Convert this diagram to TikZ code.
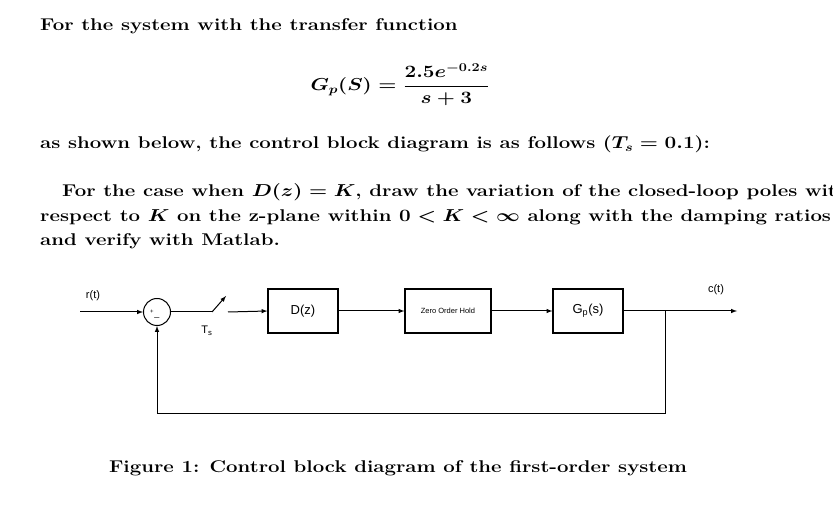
\documentclass[tikz,border=0pt]{standalone}
\usepackage{fontspec}
\newfontfamily\diag{Liberation Sans}
\begin{document}
\begin{tikzpicture}[x=1pt,y=-1pt,
  blk/.style={draw,line width=1.2pt,minimum height=44pt,inner sep=0pt},
  ln/.style={line width=1pt},
  arr/.style={ln,-latex},
  bt/.style={inner sep=0pt,xscale=1.2,transform shape,font=\fontsize{17}{20}\selectfont\bfseries\boldmath},
  txt/.style={bt,anchor=base west}]
\useasboundingbox (0,0) rectangle (833,521);
\node[txt] (t1) at (40,31) {For the system with the transfer function};
\node[bt,anchor=center] (eq) at (400,85) {$\displaystyle G_p(S)=\frac{2.5e^{-0.2s}}{s+3}$};
\node[txt] (t2) at (40,149) {as shown below, the control block diagram is as follows ($T_s=0.1$):};
\node[txt] (t3) at (62,197) {For the case when $D(z)=K$, draw the variation of the closed-loop poles with};
\node[txt] (t4) at (40,222) {respect to $K$ on the z-plane within $0<K<\infty$ along with the damping ratios};
\node[txt] (t5) at (40,246) {and verify with Matlab.};
% diagram
\coordinate (in) at (80,312);
\node[draw,circle,line width=1pt,minimum size=27pt,inner sep=0pt] (sum) at (157,312) {};
\node[font=\diag\fontsize{6}{6}\selectfont] at (152,312) {+};
\node[font=\diag\fontsize{9}{9}\selectfont] at (157,317) {\_};
\coordinate (s1) at (212,312);
\coordinate (s2) at (226,296);
\coordinate (s3) at (228,312);
\node[blk,minimum width=70pt,font=\diag\fontsize{13}{15}\selectfont] (D) at (303,311) {D(z)};
\node[blk,minimum width=86pt,font=\diag\fontsize{7.5}{8}\selectfont] (Z) at (448,311) {Zero Order Hold};
\node[blk,minimum width=70pt,font=\diag\fontsize{13}{15}\selectfont] (G) at (588,311) {G\textsubscript{p}(s)};
\coordinate (br) at (665,311);
\coordinate (out) at (737,311);
\coordinate (fb1) at (665,413);
\coordinate (fb2) at (157,413);
\node[font=\diag\fontsize{11}{13}\selectfont] (rt) at (93,296) {r(t)};
\node[font=\diag\fontsize{11}{13}\selectfont] (ct) at (716,290) {c(t)};
\node[font=\diag\fontsize{11}{13}\selectfont] (ts) at (207,331) {T\textsubscript{s}};
\draw[arr] (in) -- (sum.west);
\draw[ln] (sum.east) -- (s1);
\draw[arr] (s1) -- (s2);
\draw[arr] (s3) -- (D.west);
\draw[arr] (D.east) -- (Z.west);
\draw[arr] (Z.east) -- (G.west);
\draw[arr] (G.east) -- (out);
\draw[arr] (br) -- (fb1) -- (fb2) -- (sum.south);
\node[bt,anchor=center] (cap) at (398,468) {Figure 1: Control block diagram of the first-order system};
\end{tikzpicture}
\end{document}
